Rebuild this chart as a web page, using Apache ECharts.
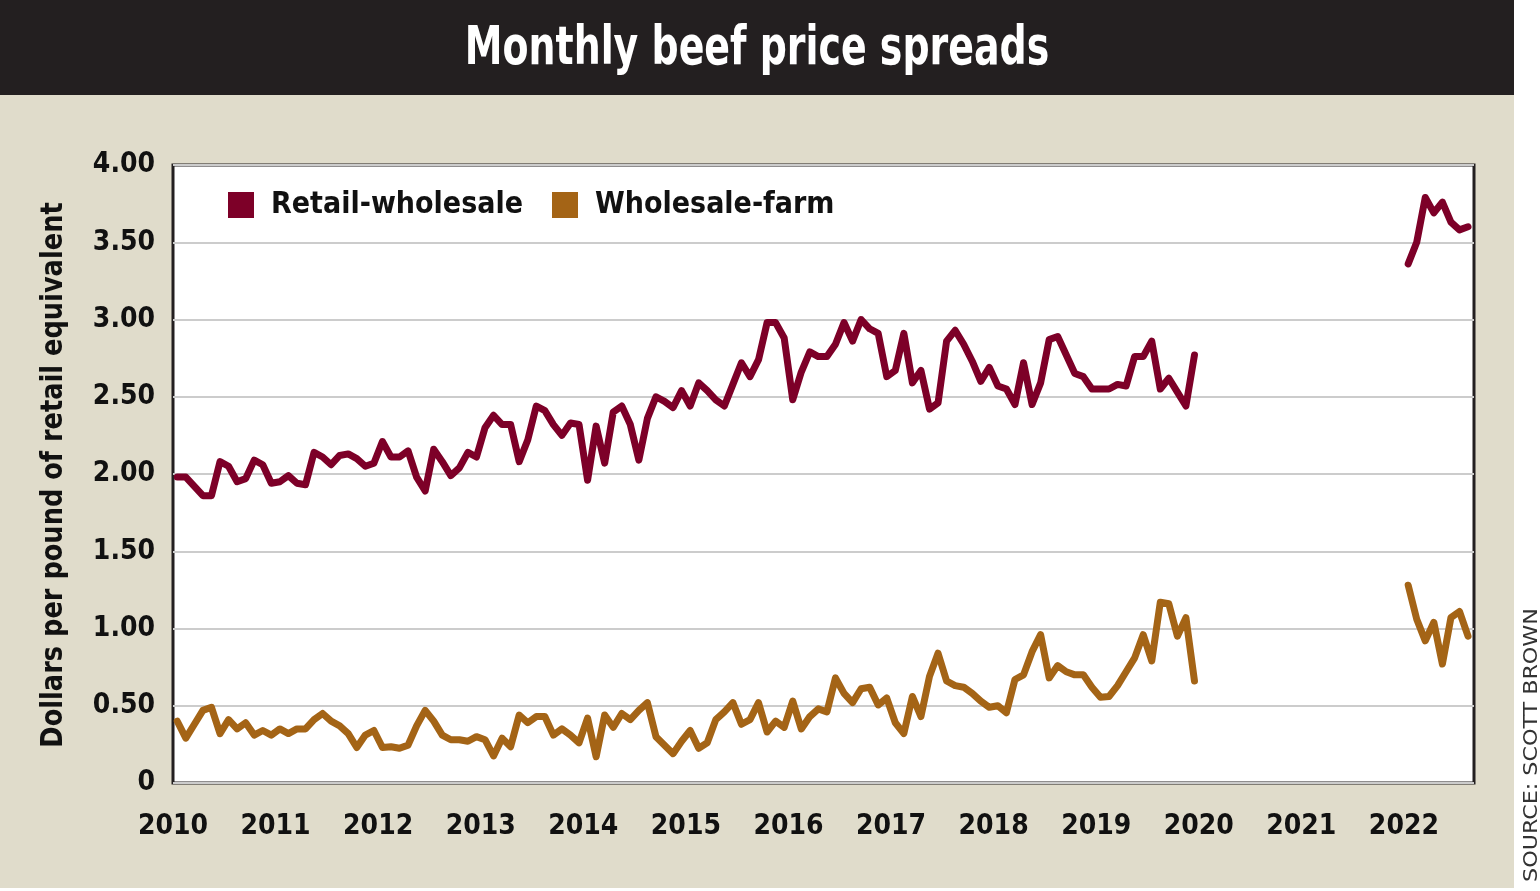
<!DOCTYPE html>
<html>
<head>
    <meta charset="utf-8"/>
    <title>Monthly beef price spreads</title>
    <style>
        html, body { margin: 0; padding: 0; background: #ffffff; }
        #main { width: 1540px; height: 891px; }
    </style>
</head>
<body>
<div id="main"></div>
<script src="https://cdn.jsdelivr.net/npm/echarts@6/dist/echarts.min.js"></script>
<script>
    // monthly values, Jan 2010 .. Dec 2019, then a gap, then Jan .. Aug 2022
    let firstYear = 2010;
    let retailWholesale = [
        1.98, 1.98, 1.92, 1.86, 1.86, 2.08, 2.05, 1.95, 1.97, 2.09, 2.06, 1.94,
        1.95, 1.99, 1.94, 1.93, 2.14, 2.11, 2.06, 2.12, 2.13, 2.10, 2.05, 2.07,
        2.21, 2.11, 2.11, 2.15, 1.98, 1.89, 2.16, 2.08, 1.99, 2.04, 2.14, 2.11,
        2.30, 2.38, 2.32, 2.32, 2.08, 2.22, 2.44, 2.41, 2.32, 2.25, 2.33, 2.32,
        1.96, 2.31, 2.07, 2.40, 2.44, 2.32, 2.09, 2.36, 2.50, 2.47, 2.43, 2.54,
        2.44, 2.59, 2.54, 2.48, 2.44, 2.58, 2.72, 2.63, 2.74, 2.98, 2.98, 2.88,
        2.48, 2.66, 2.79, 2.76, 2.76, 2.84, 2.98, 2.86, 3.00, 2.94, 2.91, 2.63,
        2.67, 2.91, 2.59, 2.67, 2.42, 2.46, 2.86, 2.93, 2.84, 2.73, 2.60, 2.69,
        2.57, 2.55, 2.45, 2.72, 2.45, 2.59, 2.87, 2.89, 2.77, 2.65, 2.63, 2.55,
        2.55, 2.55, 2.58, 2.57, 2.76, 2.76, 2.86, 2.55, 2.62, 2.53, 2.44, 2.77
    ];
    let wholesaleFarm = [
        0.40, 0.29, 0.38, 0.47, 0.49, 0.32, 0.41, 0.35, 0.39, 0.31, 0.34, 0.31,
        0.35, 0.32, 0.35, 0.35, 0.41, 0.45, 0.40, 0.37, 0.32, 0.23, 0.31, 0.34,
        0.23, 0.235, 0.225, 0.245, 0.37, 0.47, 0.40, 0.31, 0.28, 0.28, 0.27, 0.30,
        0.28, 0.175, 0.29, 0.235, 0.44, 0.39, 0.43, 0.43, 0.31, 0.35, 0.31, 0.26,
        0.42, 0.17, 0.44, 0.36, 0.45, 0.41, 0.47, 0.52, 0.30, 0.245, 0.19, 0.27,
        0.34, 0.225, 0.26, 0.41, 0.46, 0.52, 0.38, 0.41, 0.52, 0.33, 0.40, 0.36,
        0.53, 0.35, 0.43, 0.48, 0.46, 0.68, 0.58, 0.52, 0.61, 0.62, 0.505, 0.55,
        0.39, 0.32, 0.56, 0.43, 0.69, 0.84, 0.66, 0.63, 0.62, 0.58, 0.53, 0.49,
        0.50, 0.455, 0.67, 0.70, 0.85, 0.96, 0.68, 0.76, 0.72, 0.70, 0.70, 0.62,
        0.555, 0.56, 0.63, 0.72, 0.81, 0.96, 0.79, 1.17, 1.16, 0.95, 1.07, 0.66
    ];
    let laterYear = 2022;
    let retailWholesale2022 = [3.36, 3.50, 3.79, 3.69, 3.76, 3.63, 3.58, 3.60];
    let wholesaleFarm2022 = [1.28, 1.06, 0.92, 1.04, 0.77, 1.07, 1.11, 0.95];
    let seriesNames = ['Retail-wholesale', 'Wholesale-farm'];
    let yearLabels = [2010, 2011, 2012, 2013, 2014, 2015, 2016, 2017, 2018, 2019, 2020, 2021, 2022];

    let font = "'Liberation Sans Narrow', 'DejaVu Sans Condensed', 'Roboto', sans-serif";

    // monthly points sit in the middle of each month
    function toPoints(startYear, values) {
        let pts = [];
        for (let i = 0; i < values.length; i++) {
            pts.push([startYear + (i + 0.5) / 12, values[i]]);
        }
        return pts;
    }
    function withGap(a, b) {
        return a.concat([[2021, '-']], b);
    }

    let retailData = withGap(toPoints(firstYear, retailWholesale), toPoints(laterYear, retailWholesale2022));
    let farmData = withGap(toPoints(firstYear, wholesaleFarm), toPoints(laterYear, wholesaleFarm2022));

    let myChart = echarts.init(document.getElementById('main'));
    let option = {
        animation: false,
        graphic: [
            {type: 'rect', z: -10, shape: {x: 0, y: 0, width: 1514, height: 888}, style: {fill: '#e0dccb'}},
            {type: 'rect', z: -9, shape: {x: 0, y: 0, width: 1514, height: 95}, style: {fill: '#231f20'}},
            {
                type: 'text', z: 10, x: 757, y: 50, scaleX: 0.78,
                style: {
                    text: 'Monthly beef price spreads', fill: '#ffffff',
                    font: 'bold 54px ' + font, textAlign: 'center', textVerticalAlign: 'middle'
                }
            },
            {
                type: 'text', z: 10, x: 54, y: 475, rotation: Math.PI / 2, scaleX: 0.92,
                style: {
                    text: 'Dollars per pound of retail equivalent', fill: '#111111',
                    font: 'bold 31px ' + font, textAlign: 'center', textVerticalAlign: 'middle'
                }
            },
            {
                type: 'text', z: 10, x: 1532, y: 745, rotation: Math.PI / 2, scaleX: 1.3,
                style: {
                    text: 'SOURCE: SCOTT BROWN', fill: '#333333',
                    font: '19px ' + font, textAlign: 'center', textVerticalAlign: 'middle'
                }
            }
        ],
        legend: {
            data: seriesNames,
            left: 228,
            top: 190,
            padding: 0,
            icon: 'rect',
            itemWidth: 26,
            itemHeight: 26,
            itemGap: 29,
            textStyle: {
                fontFamily: font, fontWeight: 'bold', fontSize: 30, color: '#111111',
                padding: [0, 0, 0, 12]
            }
        },
        grid: {
            left: 173, top: 165, right: 66, bottom: 108,
            show: true, backgroundColor: '#ffffff',
            borderColor: '#231f20', borderWidth: 3
        },
        xAxis: {
            type: 'value',
            min: firstYear,
            max: laterYear + 8.2 / 12,
            interval: 1,
            axisLine: {show: false},
            axisTick: {show: false},
            splitLine: {show: false},
            axisLabel: {
                showMaxLabel: false,
                margin: 30,
                fontFamily: font, fontWeight: 'bold', fontSize: 28, color: '#111111',
                formatter: function (v) {
                    return yearLabels.indexOf(v) >= 0 ? String(v) : '';
                }
            }
        },
        yAxis: {
            type: 'value',
            min: 0,
            max: 4,
            interval: 0.5,
            axisLine: {show: false},
            axisTick: {show: false},
            splitLine: {lineStyle: {color: '#cccccc', width: 2}},
            axisLabel: {
                margin: 18,
                fontFamily: font, fontWeight: 'bold', fontSize: 28, color: '#111111',
                formatter: function (v) {
                    return v === 0 ? '0' : v.toFixed(2);
                }
            }
        },
        series: [
            {
                name: seriesNames[0],
                type: 'line',
                data: retailData,
                showSymbol: false,
                connectNulls: false,
                color: '#7d0028',
                lineStyle: {width: 7, join: 'round', cap: 'round'}
            },
            {
                name: seriesNames[1],
                type: 'line',
                data: farmData,
                showSymbol: false,
                connectNulls: false,
                color: '#a46416',
                lineStyle: {width: 7, join: 'round', cap: 'round'}
            }
        ]
    };
    myChart.setOption(option);
</script>
</body>
</html>
